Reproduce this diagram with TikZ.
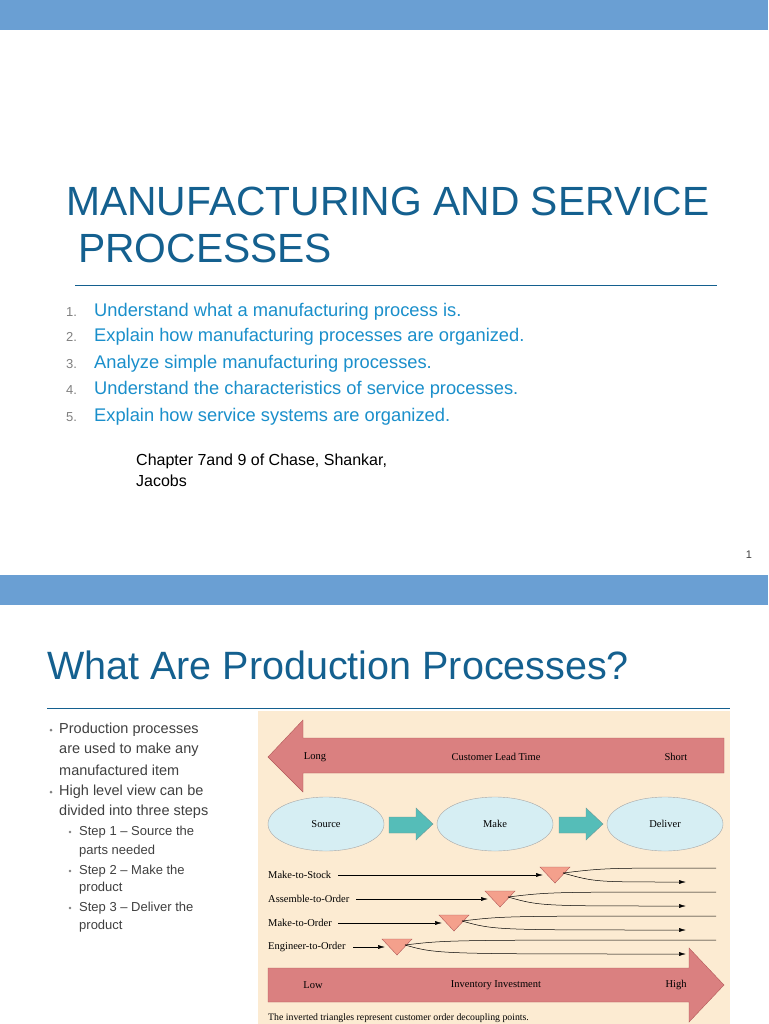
\documentclass[tikz,border=0pt]{standalone}
\usepackage{fontspec}
\setmainfont{Liberation Sans}
\newfontfamily\dfont{Liberation Serif}
\usetikzlibrary{shapes.geometric,arrows.meta}
\definecolor{barblue}{HTML}{6A9FD3}
\definecolor{ttl}{HTML}{14608F}
\definecolor{lst}{HTML}{1A8FCB}
\definecolor{gry}{HTML}{404040}
\definecolor{beige}{HTML}{FCEBD2}
\definecolor{redar}{HTML}{DA8080}
\definecolor{redln}{HTML}{B25858}
\definecolor{ell}{HTML}{D6EEF3}
\definecolor{teal}{HTML}{55BDB8}
\definecolor{tri}{HTML}{F4A08C}
\tikzset{
 x=1pt,y=-1pt,
 ttlf/.style={anchor=base west,text=ttl,font=\fontsize{40.8}{44}\selectfont,inner sep=0},
 li/.style={anchor=west,text=lst,font=\fontsize{18.3}{20}\selectfont,inner sep=0},
 num/.style={anchor=west,text=gray,font=\fontsize{13}{15}\selectfont,inner sep=0},
 bl/.style={anchor=west,text=gry,font=\fontsize{14.5}{17}\selectfont,inner sep=0},
 sb/.style={anchor=west,text=gry,font=\fontsize{13}{15}\selectfont,inner sep=0},
 dt/.style={font=\dfont\fontsize{10.5}{12}\selectfont,inner sep=0},
 el/.style={ellipse,draw=gray!70,fill=ell,minimum width=116,minimum height=54,font=\dfont\fontsize{10.5}{12}\selectfont},
 trs/.style={fill=tri,draw=redln,line width=0.4pt},
 ln/.style={line width=0.5pt},
 ar/.style={ln,-{Latex[length=7pt,width=4pt]}},
}
\begin{document}
\begin{tikzpicture}
\useasboundingbox (0,0) rectangle (768,1024);
\fill[white] (0,0) rectangle (768,1024);
\fill[barblue] (0,0) rectangle (768,30);
\fill[barblue] (0,575) rectangle (768,605);
% slide 1
\node[ttlf] (t1) at (66,215) {MANUFACTURING AND SERVICE};
\node[ttlf] (t2) at (78,262) {PROCESSES};
\draw[ttl,line width=0.8pt] (75,285) -- (717,285);
\foreach \y/\n/\t in {312/1/Understand what a manufacturing process is.,
  337/2/Explain how manufacturing processes are organized.,
  364/3/Analyze simple manufacturing processes.,
  390/4/Understand the characteristics of service processes.,
  417/5/Explain how service systems are organized.}{
  \node[num] (n\n) at (66,\y) {\n.};
  \node[li] (l\n) at (94,\y) {\t};
}
\node[anchor=west,inner sep=0,font=\fontsize{16}{21}\selectfont,align=left] (ch) at (136,470) {Chapter 7and 9 of Chase, Shankar,\\Jacobs};
\node[inner sep=0,font=\fontsize{11}{13}\selectfont,text=gry] (pg) at (749,555) {1};
% slide 2
\node[anchor=base west,inner sep=0,text=ttl,font=\fontsize{39.5}{42}\selectfont] (t3) at (47,679) {What Are Production Processes?};
\draw[ttl,line width=0.8pt] (47,708) -- (730,708);
\foreach \y/\t in {730/Production processes,750/are used to make any,770/manufactured item,792/High level view can be,812/divided into three steps}{
  \node[bl] at (59,\y) {\t};}
\foreach \y in {730,792}{\fill[gray] (51,\y) circle (1.5);}
\foreach \y/\t in {832/Step 1 -- Source the,851/parts needed,871/Step 2 -- Make the,888/product,908/Step 3 -- Deliver the,926/product}{
  \node[sb] at (79,\y) {\t};}
\foreach \y in {832,871,908}{\fill[gray] (70,\y) circle (1.3);}
% diagram
\fill[beige] (258,711) rectangle (730,1024);
\draw[redln,fill=redar] (268,757) -- (303,720) -- (303,738) -- (724,738) -- (724,773) -- (303,773) -- (303,792) -- cycle;
\node[dt] (long) at (315,757) {Long};
\node[dt] (clt) at (496,757) {Customer Lead Time};
\node[dt] (short) at (676,757) {Short};
\node[el] (src) at (326,824) {Source};
\node[el] (mk) at (495,824) {Make};
\node[el] (dl) at (665,824) {Deliver};
\foreach \a in {389,559}{
 \draw[gray!60!teal,fill=teal] (\a,817) -- (\a+27,817) -- (\a+27,808) -- (\a+44,824) -- (\a+27,840) -- (\a+27,833) -- (\a,833) -- cycle;}
\foreach \i/\y/\lab/\sx/\tx in {1/875/Make-to-Stock/338/555,2/899/Assemble-to-Order/356/500,3/923/Make-to-Order/338/454,4/947/Engineer-to-Order/353/397}{
 \node[dt,anchor=west] (r\i) at (268,\y) {\lab};
 \coordinate (s\i) at (\sx,\y);
 \draw[trs] (\tx-15,\y-8) -- (\tx+15,\y-8) -- (\tx,\y+8) -- cycle;
 \coordinate (in\i) at (\tx-12,\y);
 \coordinate (o\i) at (\tx+8,\y-2);
 \coordinate (e\i) at (716,\y-7);
 \coordinate (f\i) at (686,\y+7);
 \draw[ar] (s\i) -- (in\i);
 \draw[ln] (o\i) .. controls (\tx+50,\y-7) .. (e\i);
 \draw[ar] (o\i) .. controls (\tx+40,\y+7) .. (f\i);
}
\draw[redln,fill=redar] (268,968) -- (689,968) -- (689,948) -- (724,985) -- (689,1022) -- (689,1002) -- (268,1002) -- cycle;
\node[dt] (low) at (313,985) {Low};
\node[dt] (inv) at (496,985) {Inventory Investment};
\node[dt] (high) at (676,985) {High};
\node[dt,anchor=west,font=\dfont\fontsize{9.8}{11}\selectfont] (cap) at (268,1018) {The inverted triangles represent customer order decoupling points.};
\end{tikzpicture}
\end{document}
